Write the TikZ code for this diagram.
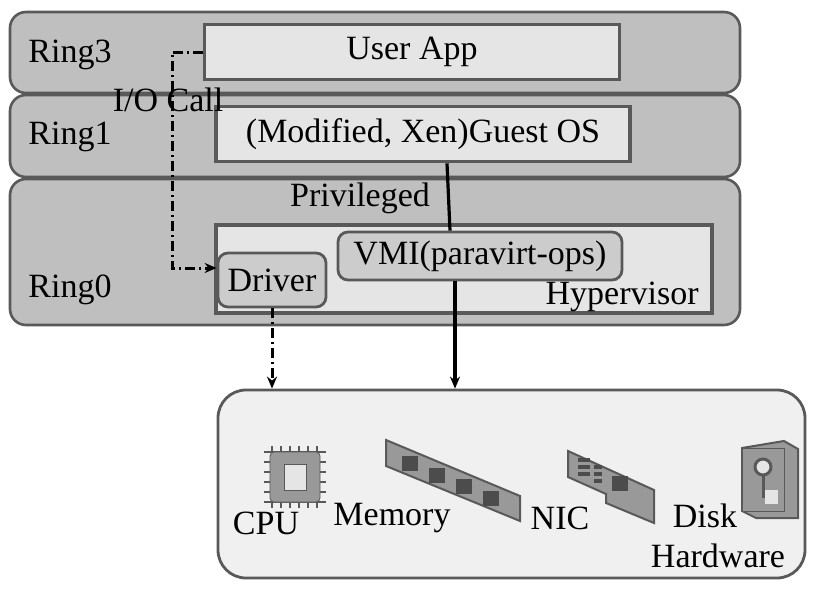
\documentclass[tikz,border=0pt]{standalone}
\usepackage{fontspec}
\setmainfont{Liberation Serif}
\usetikzlibrary{arrows.meta}
\definecolor{band}{gray}{0.75}
\definecolor{boxf}{gray}{0.9}
\definecolor{hwf}{gray}{0.94}
\definecolor{edge}{gray}{0.35}
\definecolor{chip}{gray}{0.6}
\begin{document}
\begin{tikzpicture}[x=0.5pt,y=-0.5pt,
  band/.style={draw=edge,line width=1.3pt,fill=band,rounded corners=8pt},
  box/.style={draw=edge,line width=1.8pt,fill=boxf},
  rbox/.style={draw=edge,line width=1.4pt,fill=band!80!white,rounded corners=5pt},
  lbl/.style={font=\fontsize{17}{19}\selectfont,inner sep=0pt},
  dd/.style={line width=1.5pt,dash pattern=on 5pt off 2pt on 1pt off 2pt},
  arr/.style={-{Stealth[length=6pt,width=5pt]}}]
\useasboundingbox (0,0) rectangle (830,589);
\fill[white] (0,0) rectangle (830,589);
\draw[band] (10,12) rectangle (740,93);
\draw[band] (10,95) rectangle (740,177);
\draw[band] (10,179) rectangle (740,325);
\node[lbl] (r3) at (70,55) {Ring3};
\node[lbl] (r1) at (70,137) {Ring1};
\node[lbl] (r0) at (70,290) {Ring0};
\node[box,minimum width=207.5pt,minimum height=27.5pt,lbl] (app) at (412,52) {User App};
\node[box,minimum width=207pt,minimum height=27.5pt,lbl] (os) at (423,134) {(Modified, Xen)Guest OS};
\node[lbl] (priv) at (360,198) {Privileged};
\node[box,minimum width=248pt,minimum height=44pt] (hyp) at (464,269) {};
\node[lbl,anchor=south east] (hyl) at (699,312) {Hypervisor};
\node[rbox,minimum width=142pt,minimum height=24pt,lbl] (vmi) at (480,256) {VMI(paravirt-ops)};
\node[rbox,minimum width=54pt,minimum height=27pt,lbl] (drv) at (272,280) {Driver};
\node[lbl] (io) at (168,100) {I/O Call};
\coordinate (c1) at (172,52);
\coordinate (c2) at (172,268);
\draw[dd,arr] (app.west) -- (c1) -- (c2) -- (drv.west |- c2);
% hardware
\node[draw=edge,line width=1.4pt,fill=hwf,rounded corners=14pt,minimum width=293.5pt,minimum height=94pt] (hw) at (511.5,484) {};
\draw[line width=1.6pt] (os.south -| 447,0) -- (vmi.north -| 450,0);
\draw[line width=1.6pt,arr] (vmi.south -| 455,0) -- (hw.north -| 455,0);
\draw[dd,arr] (drv.south) -- (hw.north -| drv.south);
% CPU icon
\foreach \i in {0,...,5}{\draw[edge,line width=1.2pt] (272+\i*9,446)--(272+\i*9,508);
  \draw[edge,line width=1.2pt] (264,452+\i*10)--(326,452+\i*10);}
\node[draw=edge,fill=chip,minimum width=25pt,minimum height=25pt,rounded corners=2pt] (cpu) at (295,477) {};
\node[draw=edge,fill=boxf,minimum width=11pt,minimum height=13pt] (cpuc) at (295,477) {};
% Memory icon
\draw[edge,fill=chip,line width=1pt] (386,440) -- (520,496) -- (520,521) -- (386,466) -- cycle;
\foreach \i in {0,...,3}{\fill[gray!60!black] (402+\i*27,456+\i*11.5) rectangle ++(16,15);}
% NIC icon
\draw[edge,fill=chip,line width=1pt] (568,451) -- (654,490) -- (654,523) -- (606,503) -- (606,494) -- (568,477) -- cycle;
\fill[gray!60!black] (612,476) rectangle ++(16,15);
\foreach \i in {0,1,2}{\fill[gray!60!black] (578,458+\i*7) rectangle ++(12,4);\fill[gray!60!black] (594,465+\i*7) rectangle ++(8,4);}
% Disk icon
\draw[edge,fill=gray!80,line width=1pt] (742,448) -- (784,441) -- (798,449) -- (798,518) -- (756,518) -- (742,511) -- cycle;
\draw[edge,fill=chip] (742,448) rectangle (784,511);
\draw[edge,line width=1.5pt,fill=boxf] (763,467) circle (8);
\draw[edge,line width=1.5pt] (763,475) -- (763,498);
\fill[boxf] (765,490) rectangle (778,504);
% labels
\node[lbl] (l1) at (266,523) {CPU};
\node[lbl] (l2) at (392,518) {Memory};
\node[lbl] (l3) at (560,518) {NIC};
\node[lbl] (l4) at (705,516) {Disk};
\node[lbl] (l5) at (718,556) {Hardware};
\end{tikzpicture}
\end{document}
